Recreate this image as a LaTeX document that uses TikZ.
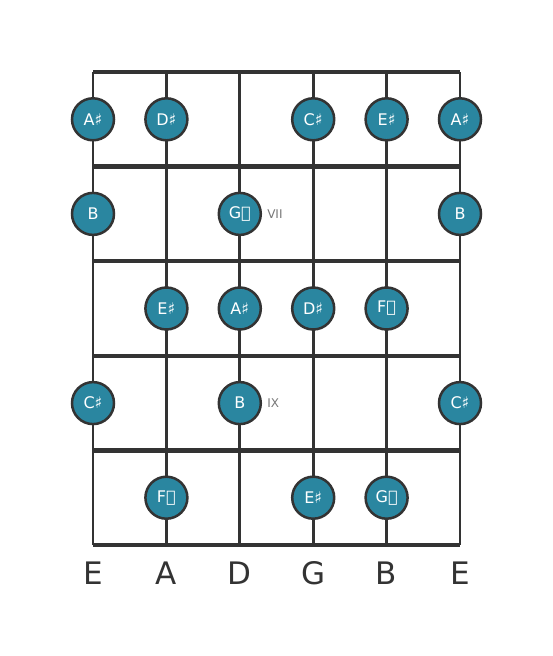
\documentclass[tikz,border=0pt]{standalone}
\usepackage{fontspec}
\setmainfont{DejaVu Sans}
\usetikzlibrary{positioning}
\definecolor{notefill}{HTML}{2A86A0}
\definecolor{boardline}{HTML}{333333}
\definecolor{fretgray}{HTML}{777777}
\begin{document}
\begin{tikzpicture}[
x=1pt,y=-1pt,
note/.style={
  circle,
  draw=boardline,
  line width=2.5pt,
  fill=notefill,
  minimum size=42pt,
  inner sep=0pt,
  text=white,
  font=\fontsize{16}{16}\selectfont
  },
fret/.style={boardline,line width=4.5pt},
gstring/.style={boardline,line width=2.8pt},
fretnum/.style={text=fretgray,font=\fontsize{12}{12}\selectfont,inner sep=0pt},
stringname/.style={text=boardline,font=\fontsize{31}{31}\selectfont}
]
\useasboundingbox (0,0) rectangle (553,656);
% frets
\foreach \f in {0,...,5}
  \draw[fret] (93,{72+94.6*\f}) -- (460,{72+94.6*\f});
% strings
\foreach \s/\name in {1/E,2/A,3/D,4/G,5/B,6/E} {
  \coordinate (t\s) at ({93+73.4*(\s-1)},72);
  \coordinate (b\s) at ({93+73.4*(\s-1)},545);
  \node[stringname] (s\s) at ({93+73.4*(\s-1)},573) {\name};
  \draw[gstring] (t\s) -- (b\s);
}
% notes
\foreach \s/\f/\n in {1/1/A♯,2/1/D♯,4/1/C♯,5/1/E♯,6/1/A♯,
                      1/2/B,3/2/G𝄪,6/2/B,
                      2/3/E♯,3/3/A♯,4/3/D♯,5/3/F𝄪,
                      1/4/C♯,3/4/B,6/4/C♯,
                      2/5/F𝄪,4/5/E♯,5/5/G𝄪}
  \node[note] (n\s\f) at ({93+73.4*(\s-1)},{72+94.6*(\f-0.5)}) {\n};
\node[fretnum,right=5pt of n32] (vii) {VII};
\node[fretnum,right=5pt of n34] (ix) {IX};
\end{tikzpicture}
\end{document}
